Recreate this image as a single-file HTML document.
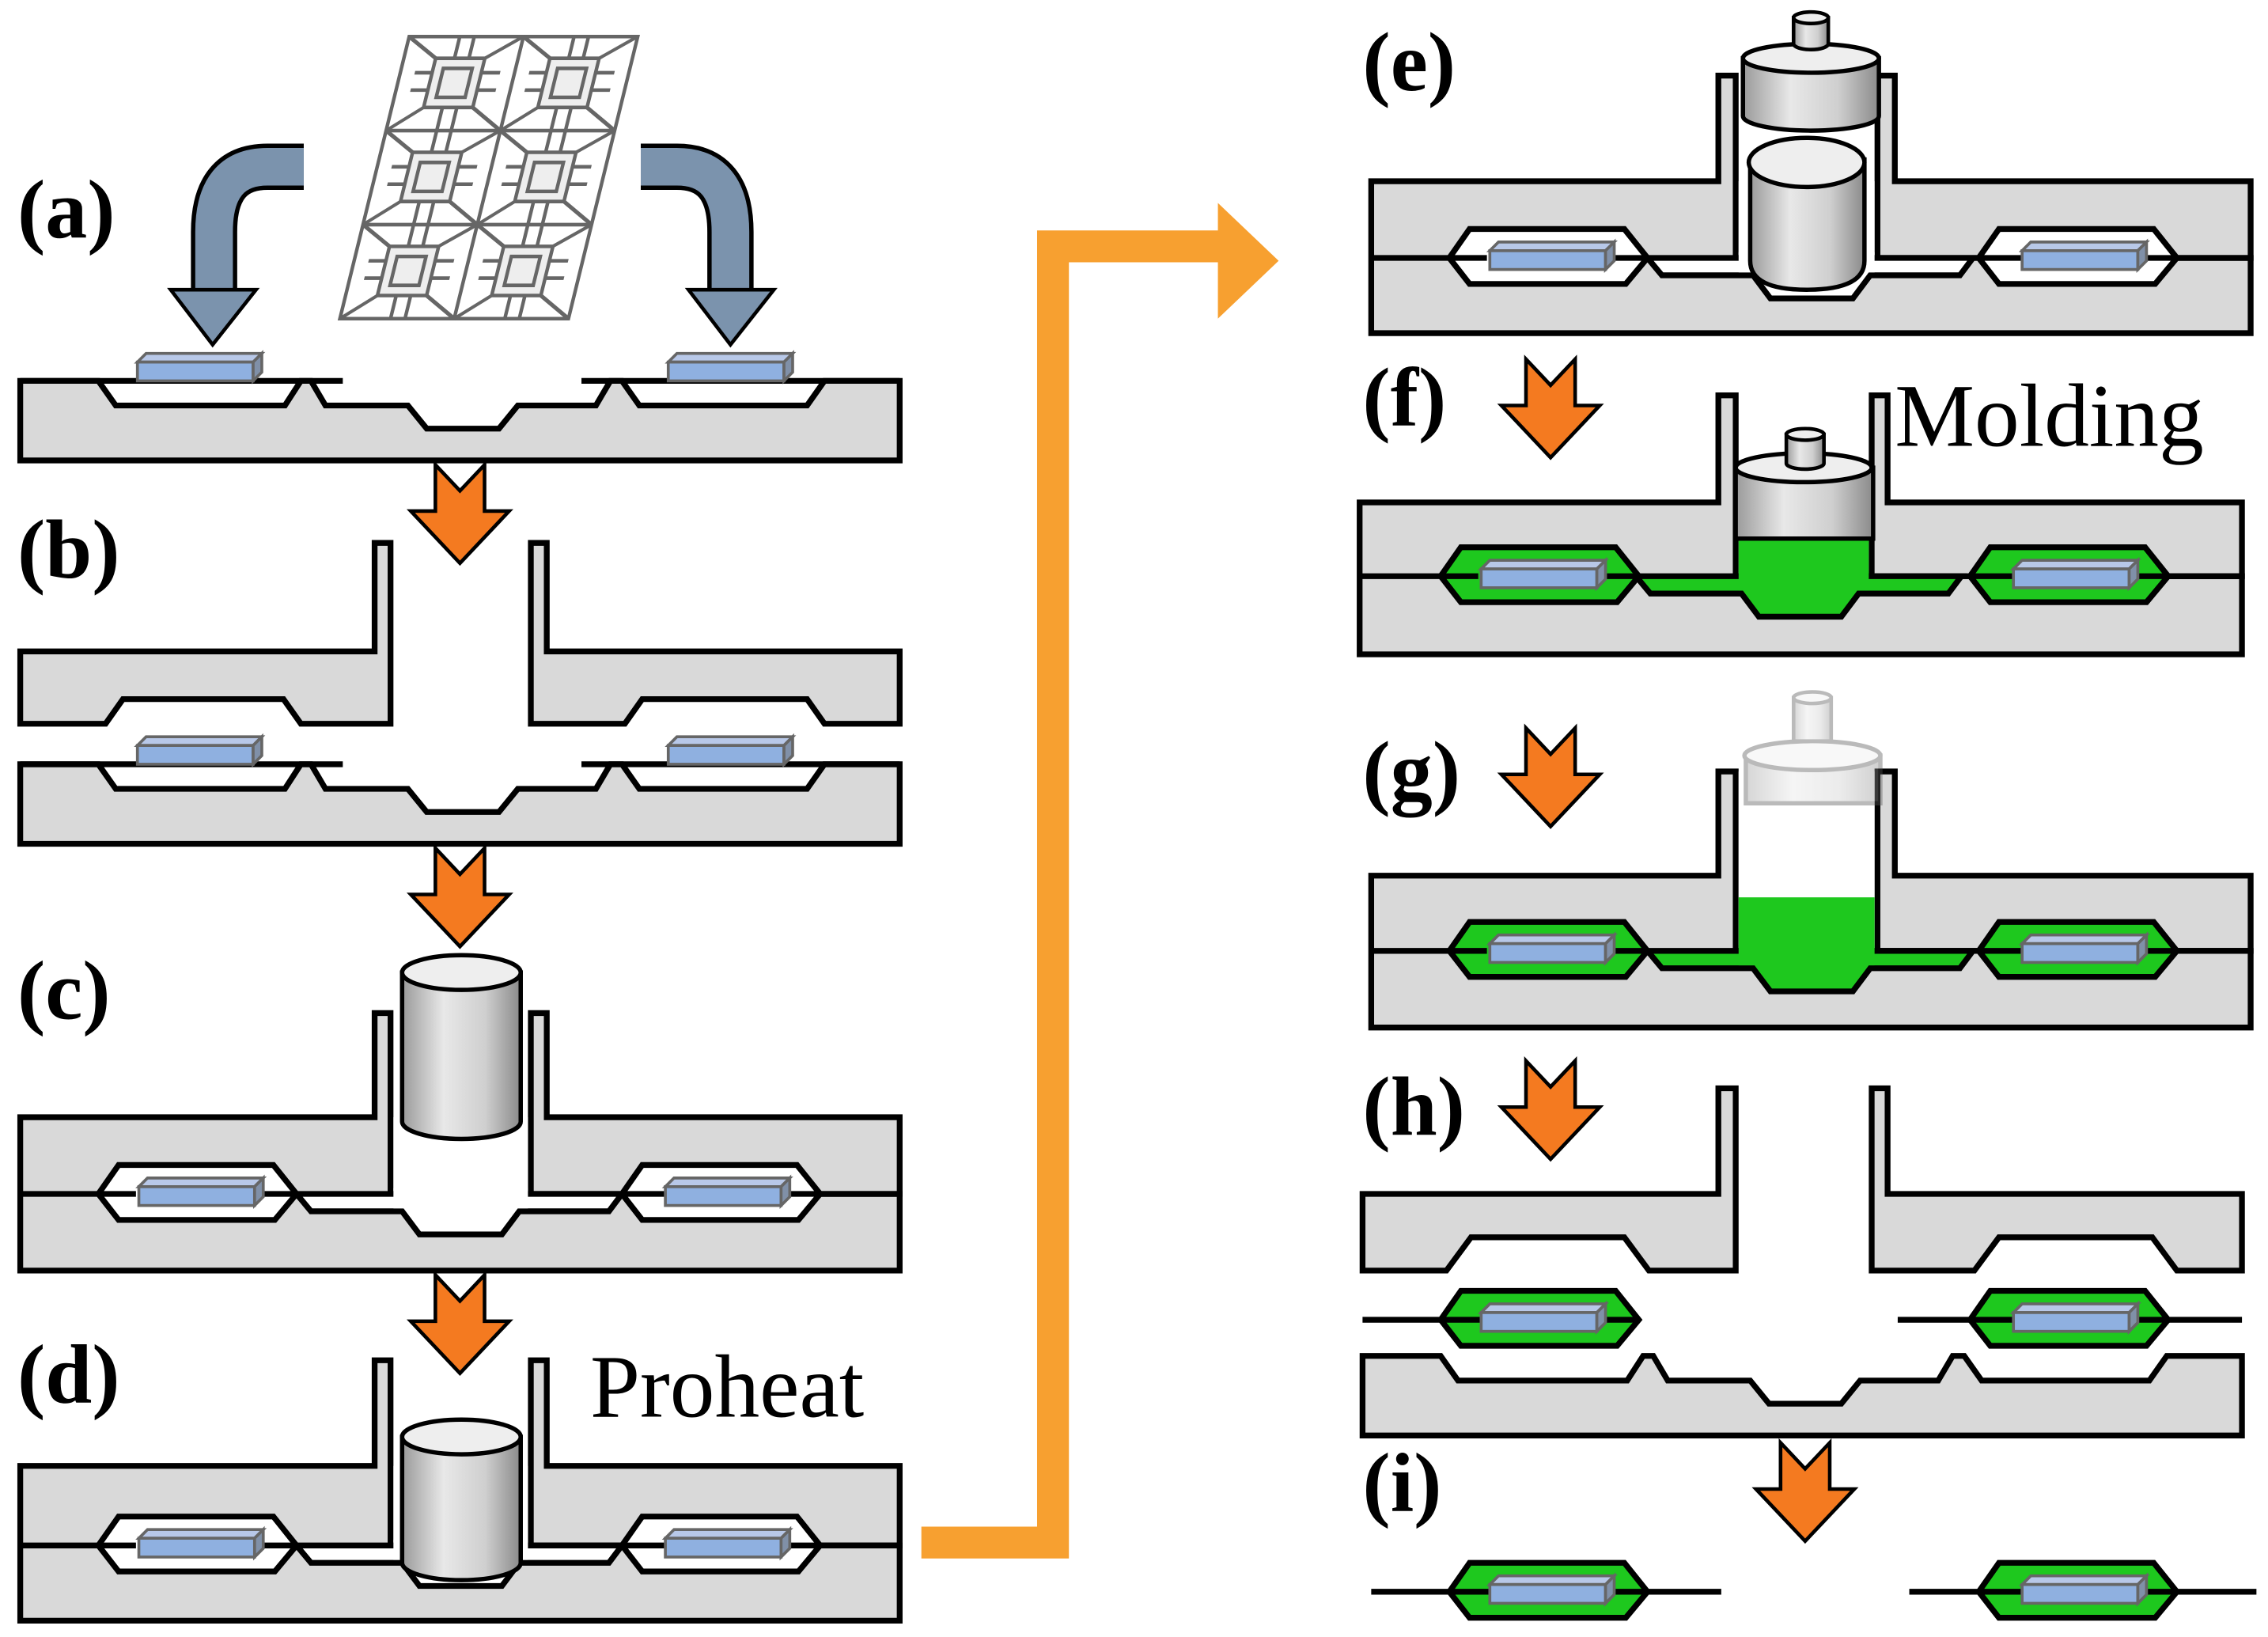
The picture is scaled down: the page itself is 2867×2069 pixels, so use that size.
<!DOCTYPE html>
<html><head><meta charset="utf-8"><style>html,body{margin:0;padding:0;background:#fff}svg{display:block}</style></head>
<body>
<svg width="2867" height="2069" viewBox="0 0 1568 1131" xmlns="http://www.w3.org/2000/svg">
<defs>
<linearGradient id="cyl" x1="0" x2="1" y1="0" y2="0">
<stop offset="0" stop-color="#9a9a9a"/><stop offset="0.35" stop-color="#e8e8e8"/><stop offset="0.7" stop-color="#cfcfcf"/><stop offset="1" stop-color="#8a8a8a"/></linearGradient>
<g id="chip">
<polygon points="0,3 6,-3 86,-3 80,3" fill="#b8c8e8" stroke="#666" stroke-width="2"/>
<rect x="0" y="3" width="80" height="13" fill="#8fb0e0" stroke="#666" stroke-width="2"/>
<polygon points="80,3 86,-3 86,10 80,16" fill="#8090a8" stroke="#666" stroke-width="2"/>
</g>
<g id="lowerOpen">
<path d="M0,0 L54,0 L66,17 L183,17 L194,0 L201,0 L211,17 L268,17 L281,33 L331,33 L344,17 L398,17 L408,0 L416,0 L428,17 L544,17 L556,0 L608,0 L608,55 L0,55 Z" fill="#d9d9d9" stroke="#000" stroke-width="4"/>
<line x1="0" y1="0" x2="223" y2="0" stroke="#000" stroke-width="4"/>
<line x1="388" y1="0" x2="608" y2="0" stroke="#000" stroke-width="4"/>
</g>
<polygon id="hex" points="0,0 14,-20 121,-20 137,0 122,18 14,18"/>
<polygon id="runner" points="191,0 201,12 264,12 276,28 333,28 345,12 407,12 416,0"/>
<polygon id="arrow" points="-17,0 0,18 17,0 17,32 34,32 0,68 -34,32 -17,32" fill="#f47a20" stroke="#000" stroke-width="2.5"/>
</defs>

<g font-family="Liberation Serif, serif" font-weight="bold" font-size="58">
<text x="12" y="164">(a)</text>
<text x="12" y="399">(b)</text>
<text x="12" y="704">(c)</text>
<text x="12" y="969">(d)</text>
<text x="942" y="62">(e)</text>
<text x="942" y="294">(f)</text>
<text x="942" y="552">(g)</text>
<text x="942" y="784">(h)</text>
<text x="942" y="1044">(i)</text>
</g>
<g font-family="Liberation Serif, serif" font-size="62">
<text x="408" y="979">Proheat</text>
<text x="1310" y="308">Molding</text>
</g>

<g transform="translate(235,220) skewX(-13.8)" fill="none" stroke="#666" stroke-width="2.5">
<rect x="0" y="-195" width="158" height="195"/>
<line x1="79" y1="-195" x2="79" y2="0"/><line x1="0" y1="-130" x2="158" y2="-130"/><line x1="0" y1="-65" x2="158" y2="-65"/>
<g id="cell">
<rect x="22" y="-50" width="34" height="34" fill="#eee"/><rect x="29" y="-43" width="20" height="20"/>
<path d="M0,-65 L22,-50 M79,-65 L56,-50 M0,0 L22,-16 M79,0 L56,-16 M10,-40 L22,-40 M10,-28 L22,-28 M56,-40 L69,-40 M56,-28 L69,-28 M35,-65 L35,-50 M45,-65 L45,-50 M35,0 L35,-16 M45,0 L45,-16"/>
</g>
<use href="#cell" x="79"/><use href="#cell" y="-65"/><use href="#cell" x="79" y="-65"/><use href="#cell" y="-130"/><use href="#cell" x="79" y="-130"/>
</g>

<path d="M210,115 L185,115 Q148,115 148,160 L148,200" fill="none" stroke="#000" stroke-width="32"/>
<path d="M210,115 L185,115 Q148,115 148,160 L148,202" fill="none" stroke="#7b93ad" stroke-width="26"/>
<polygon points="118,200 177,200 147,238" fill="#7b93ad" stroke="#000" stroke-width="2.5"/>
<path d="M443,115 L468,115 Q505,115 505,160 L505,200" fill="none" stroke="#000" stroke-width="32"/>
<path d="M443,115 L468,115 Q505,115 505,160 L505,202" fill="none" stroke="#7b93ad" stroke-width="26"/>
<polygon points="476,200 535,200 505,238" fill="#7b93ad" stroke="#000" stroke-width="2.5"/>

<!-- (a) -->
<g transform="translate(14,263)"><use href="#lowerOpen"/><use href="#chip" x="81" y="-16"/><use href="#chip" x="448" y="-16"/></g>
<use href="#arrow" x="318" y="321"/>

<!-- (b) -->
<path d="M14,450 L259,450 L259,375 L270,375 L270,500 L208,500 L196,483 L85,483 L73,500 L14,500 Z" fill="#d9d9d9" stroke="#000" stroke-width="4"/>
<path d="M622,450 L378,450 L378,375 L367,375 L367,500 L432,500 L444,483 L558,483 L570,500 L622,500 Z" fill="#d9d9d9" stroke="#000" stroke-width="4"/>
<g transform="translate(14,528)"><use href="#lowerOpen"/><use href="#chip" x="81" y="-16"/><use href="#chip" x="448" y="-16"/></g>
<use href="#arrow" x="318" y="586"/>

<!-- (c) -->
<g transform="translate(14,825)">
<path d="M0,-53 L245,-53 L245,-125 L256,-125 L256,0 L608,0 L608,53 L0,53 Z" fill="#d9d9d9" stroke="#000" stroke-width="4"/>
<path d="M608,-53 L364,-53 L364,-125 L353,-125 L353,0 L608,0 Z" fill="#d9d9d9" stroke="#000" stroke-width="4"/>
<rect x="258" y="-53" width="93" height="55" fill="#fff"/>
<use href="#runner" fill="#fff" stroke="#000" stroke-width="4"/>
<rect x="258" y="-4" width="93" height="14" fill="#fff"/>
<use href="#hex" x="54" fill="#fff" stroke="#000" stroke-width="4"/>
<use href="#hex" x="416" fill="#fff" stroke="#000" stroke-width="4"/>
<path d="M0,0 L80,0 M160,0 L191,0 M416,0 L446,0 M528,0 L608,0" stroke="#000" stroke-width="4"/>
<use href="#chip" x="82" y="-8"/><use href="#chip" x="446" y="-8"/>
</g>
<path d="M278,672 L278,775 A41,12 0 0 0 360,775 L360,672 Z" fill="url(#cyl)" stroke="#000" stroke-width="3"/>
<ellipse cx="319" cy="672" rx="41" ry="12" fill="#eee" stroke="#000" stroke-width="3"/>
<use href="#arrow" x="318" y="881"/>

<!-- (d) -->
<g transform="translate(14,1068)">
<path d="M0,-55 L245,-55 L245,-128 L256,-128 L256,0 L608,0 L608,52 L0,52 Z" fill="#d9d9d9" stroke="#000" stroke-width="4"/>
<path d="M608,-55 L364,-55 L364,-128 L353,-128 L353,0 L608,0 Z" fill="#d9d9d9" stroke="#000" stroke-width="4"/>
<rect x="258" y="-55" width="93" height="57" fill="#fff"/>
<use href="#runner" fill="#fff" stroke="#000" stroke-width="4"/>
<rect x="258" y="-4" width="93" height="14" fill="#fff"/>
<use href="#hex" x="54" fill="#fff" stroke="#000" stroke-width="4"/>
<use href="#hex" x="416" fill="#fff" stroke="#000" stroke-width="4"/>
<path d="M0,0 L80,0 M160,0 L191,0 M416,0 L446,0 M528,0 L608,0" stroke="#000" stroke-width="4"/>
<use href="#chip" x="82" y="-8"/><use href="#chip" x="446" y="-8"/>
</g>
<path d="M278,993 L278,1080 A41,12 0 0 0 360,1080 L360,993 Z" fill="url(#cyl)" stroke="#000" stroke-width="3"/>
<ellipse cx="319" cy="993" rx="41" ry="12" fill="#eee" stroke="#000" stroke-width="3"/>

<polyline points="637,1066 728,1066 728,170 848,170" fill="none" stroke="#f7a030" stroke-width="22"/>
<polygon points="842,140 884,180 842,220" fill="#f7a030"/>

<!-- (e) -->
<g transform="translate(948,178)">
<path d="M0,-53 L240,-53 L240,-126 L252,-126 L252,0 L608,0 L608,52 L0,52 Z" fill="#d9d9d9" stroke="#000" stroke-width="4"/>
<path d="M608,-53 L362,-53 L362,-126 L350,-126 L350,0 L608,0 Z" fill="#d9d9d9" stroke="#000" stroke-width="4"/>
<rect x="254" y="-53" width="94" height="55" fill="#fff"/>
<use href="#runner" fill="#fff" stroke="#000" stroke-width="4"/>
<rect x="254" y="-4" width="94" height="14" fill="#fff"/>
<use href="#hex" x="54" fill="#fff" stroke="#000" stroke-width="4"/>
<use href="#hex" x="420" fill="#fff" stroke="#000" stroke-width="4"/>
<path d="M0,0 L80,0 M160,0 L191,0 M420,0 L450,0 M532,0 L608,0" stroke="#000" stroke-width="4"/>
<use href="#chip" x="82" y="-8"/><use href="#chip" x="450" y="-8"/>
</g>
<path d="M1210,110 L1210,180 Q1210,200 1249,200 Q1289,200 1289,180 L1289,110 Z" fill="url(#cyl)" stroke="#000" stroke-width="3"/>
<ellipse cx="1249" cy="112" rx="40" ry="17" fill="#eee" stroke="#000" stroke-width="3"/>
<path d="M1205,40 L1205,80 A47,10 0 0 0 1299,80 L1299,40 Z" fill="url(#cyl)" stroke="#000" stroke-width="3"/>
<ellipse cx="1252" cy="40" rx="47" ry="10" fill="#eee" stroke="#000" stroke-width="3"/>
<path d="M1240,12 L1240,30 A12,4 0 0 0 1264,30 L1264,12 Z" fill="url(#cyl)" stroke="#000" stroke-width="2.5"/>
<ellipse cx="1252" cy="12" rx="12" ry="4" fill="#eee" stroke="#000" stroke-width="2.5"/>
<use href="#arrow" x="1072" y="248"/>

<!-- (f) -->
<g transform="translate(940,398)">
<path d="M0,-51 L248,-51 L248,-125 L260,-125 L260,0 L610,0 L610,54 L0,54 Z" fill="#d9d9d9" stroke="#000" stroke-width="4"/>
<path d="M610,-51 L365,-51 L365,-125 L354,-125 L354,0 L610,0 Z" fill="#d9d9d9" stroke="#000" stroke-width="4"/>
<rect x="262" y="-26" width="90" height="28" fill="#1ec81e"/>
<use href="#runner" fill="#1ec81e" stroke="#000" stroke-width="4"/>
<rect x="262" y="-4" width="90" height="14" fill="#1ec81e"/>
<use href="#hex" x="56" fill="#1ec81e" stroke="#000" stroke-width="4"/>
<use href="#hex" x="422" fill="#1ec81e" stroke="#000" stroke-width="4"/>
<path d="M0,0 L82,0 M162,0 L193,0 M422,0 L452,0 M534,0 L610,0" stroke="#000" stroke-width="4"/>
<use href="#chip" x="84" y="-8"/><use href="#chip" x="452" y="-8"/>
</g>
<path d="M1200,323 L1200,372 L1295,372 L1295,323 Z" fill="url(#cyl)" stroke="#000" stroke-width="3"/>
<ellipse cx="1247" cy="323" rx="47" ry="10" fill="#eee" stroke="#000" stroke-width="3"/>
<path d="M1235,300 L1235,320 A13,4 0 0 0 1261,320 L1261,300 Z" fill="url(#cyl)" stroke="#000" stroke-width="2.5"/>
<ellipse cx="1248" cy="300" rx="13" ry="4" fill="#eee" stroke="#000" stroke-width="2.5"/>
<use href="#arrow" x="1072" y="503"/>

<!-- (g) -->
<g transform="translate(948,657)">
<path d="M0,-52 L240,-52 L240,-124 L252,-124 L252,0 L608,0 L608,53 L0,53 Z" fill="#d9d9d9" stroke="#000" stroke-width="4"/>
<path d="M608,-52 L362,-52 L362,-124 L350,-124 L350,0 L608,0 Z" fill="#d9d9d9" stroke="#000" stroke-width="4"/>
<rect x="254" y="-124" width="94" height="126" fill="#fff"/>
<rect x="254" y="-37" width="94" height="40" fill="#1ec81e"/>
<use href="#runner" fill="#1ec81e" stroke="#000" stroke-width="4"/>
<rect x="254" y="-4" width="94" height="14" fill="#1ec81e"/>
<use href="#hex" x="54" fill="#1ec81e" stroke="#000" stroke-width="4"/>
<use href="#hex" x="420" fill="#1ec81e" stroke="#000" stroke-width="4"/>
<path d="M0,0 L80,0 M160,0 L191,0 M420,0 L450,0 M532,0 L608,0" stroke="#000" stroke-width="4"/>
<use href="#chip" x="82" y="-8"/><use href="#chip" x="450" y="-8"/>
</g>
<g opacity="0.4">
<path d="M1207,522 L1207,555 L1300,555 L1300,522 Z" fill="url(#cyl)" stroke="#555" stroke-width="3"/>
<ellipse cx="1253" cy="522" rx="47" ry="10" fill="#eee" stroke="#555" stroke-width="3"/>
<path d="M1240,482 L1240,512 L1266,512 L1266,482 Z" fill="url(#cyl)" stroke="#555" stroke-width="2.5"/>
<ellipse cx="1253" cy="482" rx="13" ry="4" fill="#eee" stroke="#555" stroke-width="2.5"/>
</g>
<use href="#arrow" x="1072" y="733"/>

<!-- (h) -->
<path d="M942,825 L1188,825 L1188,752 L1200,752 L1200,878 L1140,878 L1123,855 L1017,855 L1000,878 L942,878 Z" fill="#d9d9d9" stroke="#000" stroke-width="4"/>
<path d="M1550,825 L1305,825 L1305,752 L1294,752 L1294,878 L1365,878 L1382,855 L1488,855 L1505,878 L1550,878 Z" fill="#d9d9d9" stroke="#000" stroke-width="4"/>
<g transform="translate(942,912)">
<path d="M0,0 L182,0" stroke="#000" stroke-width="4"/>
<use href="#hex" x="54" fill="#1ec81e" stroke="#000" stroke-width="4"/>
<path d="M54,0 L82,0 M162,0 L191,0" stroke="#000" stroke-width="4"/>
<use href="#chip" x="82" y="-8"/>
<path d="M370,0 L608,0" stroke="#000" stroke-width="4"/>
<use href="#hex" x="420" fill="#1ec81e" stroke="#000" stroke-width="4"/>
<path d="M420,0 L450,0 M532,0 L557,0" stroke="#000" stroke-width="4"/>
<use href="#chip" x="450" y="-8"/>
</g>
<g transform="translate(942,937)"><path d="M0,0 L54,0 L66,17 L183,17 L194,0 L201,0 L211,17 L268,17 L281,33 L331,33 L344,17 L398,17 L408,0 L416,0 L428,17 L544,17 L556,0 L608,0 L608,55 L0,55 Z" fill="#d9d9d9" stroke="#000" stroke-width="4"/></g>
<use href="#arrow" x="1248" y="997"/>

<!-- (i) -->
<g transform="translate(948,1100)">
<path d="M0,0 L242,0" stroke="#000" stroke-width="4"/>
<use href="#hex" x="54" fill="#1ec81e" stroke="#000" stroke-width="4"/>
<path d="M54,0 L82,0 M162,0 L191,0" stroke="#000" stroke-width="4"/>
<use href="#chip" x="82" y="-8"/>
<path d="M372,0 L612,0" stroke="#000" stroke-width="4"/>
<use href="#hex" x="420" fill="#1ec81e" stroke="#000" stroke-width="4"/>
<path d="M420,0 L450,0 M532,0 L557,0" stroke="#000" stroke-width="4"/>
<use href="#chip" x="450" y="-8"/>
</g>
</svg>
</body></html>
